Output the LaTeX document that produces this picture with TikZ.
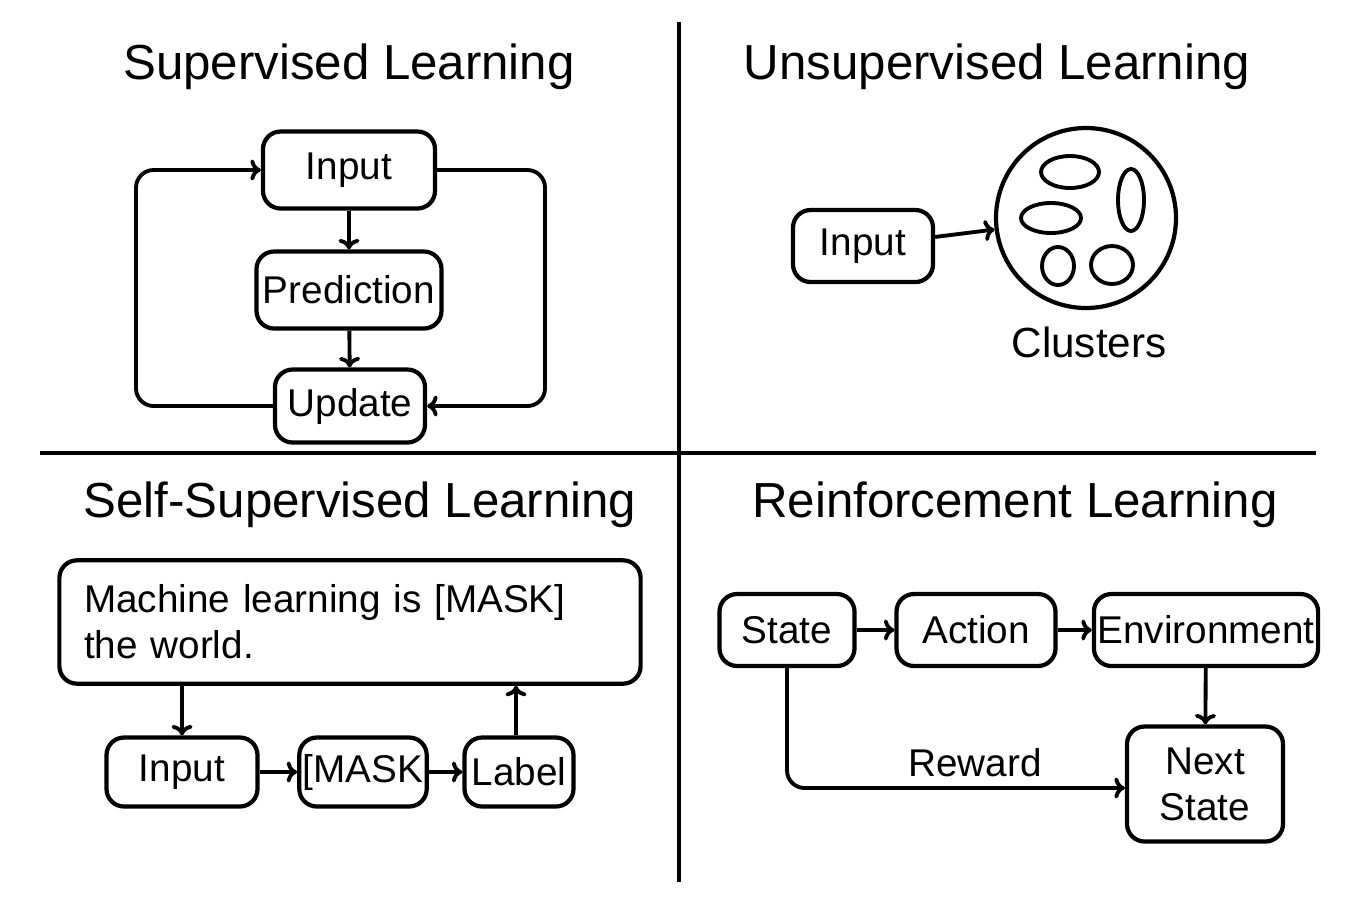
\documentclass[tikz,border=0pt]{standalone}
\usepackage{fontspec}
\setmainfont{Liberation Sans}
\usetikzlibrary{arrows.meta}

\tikzset{
  box/.style={draw, line width=1.2pt, rounded corners=5pt, align=center, font=\fontsize{11}{13}\selectfont},
  title/.style={font=\fontsize{14}{16}\selectfont},
  link/.style={line width=1.1pt, -{To[length=3pt,width=6pt]}, rounded corners=5pt},
}

\begin{document}
\begin{tikzpicture}[x=0.01cm, y=-0.01cm]
	\useasboundingbox (0,0) rectangle (1358,905);
	%% dividers
	\draw[line width=1.3pt] (679,22) -- (679,882);
	\draw[line width=1.3pt] (40,453) -- (1316,453);
	%% supervised
	\node[title] (tsup) at (349,67) {Supervised Learning};
	\node[box, minimum width=172*0.01cm, minimum height=77*0.01cm] (input) at (349,170) {Input};
	\node[box, minimum width=185*0.01cm, minimum height=77*0.01cm, inner sep=1pt] (pred) at (349,290) {Prediction};
	\node[box, minimum width=150*0.01cm, minimum height=73*0.01cm] (update) at (350,406) {Update};
	\draw[link] (input) -- (pred);
	\draw[link] (pred) -- (update);
	\draw[link] (update.west) -- (136,406) -- (136,170) -- (input.west);
	\draw[link] (input.east) -- (545,170) -- (545,406) -- (update.east);
	%% unsupervised
	\node[title] (tuns) at (997,67) {Unsupervised Learning};
	\node[box, minimum width=140*0.01cm, minimum height=72*0.01cm] (uinput) at (863,246) {Input};
	\node[draw, line width=1.2pt, circle, minimum size=180*0.01cm] (clus) at (1086,218) {};
	\draw[link] (uinput) -- (clus);
	\draw[line width=1.1pt] (1070,172) ellipse[x radius=29, y radius=16]
	  (1131,200) ellipse[x radius=13, y radius=31]
	  (1051,218) ellipse[x radius=30, y radius=15]
	  (1058,266) ellipse[x radius=16, y radius=19]
	  (1112,265) ellipse[x radius=21, y radius=19];
	\node[font=\fontsize{12}{14}\selectfont] (clab) at (1089,342) {Clusters};
	%% self-supervised
	\node[title] (tself) at (360,505) {Self-Supervised Learning};
	\node[box, align=left, text width=532*0.01cm, minimum height=115*0.01cm, inner sep=7pt] (sent) at (350,622) {Machine learning is [MASK] the world.};
	\node[box, minimum width=151*0.01cm, minimum height=69*0.01cm] (sinput) at (182,772) {Input};
	\node[box, minimum width=127*0.01cm, minimum height=69*0.01cm, inner sep=1pt] (mask) at (363,772) {[MASK};
	\node[box, minimum width=109*0.01cm, minimum height=69*0.01cm, inner sep=1pt] (label) at (519,772) {Label};
	\draw[link] (sent.south -| sinput) -- (sinput);
	\draw[link] (sinput) -- (mask);
	\draw[link] (mask) -- (label);
	\draw[link] (label.north -| 516,0) -- (sent.south -| 516,0);
	%% reinforcement
	\node[title] (trl) at (1015,505) {Reinforcement Learning};
	\node[box, minimum width=135*0.01cm, minimum height=72*0.01cm] (state) at (787,630) {State};
	\node[box, minimum width=159*0.01cm, minimum height=72*0.01cm] (action) at (976,630) {Action};
	\node[box, minimum width=219*0.01cm, minimum height=72*0.01cm, inner sep=1pt] (env) at (1206,630) {Environment};
	\node[box, minimum width=156*0.01cm, minimum height=115*0.01cm] (next) at (1205,784) {Next\\State};
	\draw[link] (state) -- (action);
	\draw[link] (action) -- (env);
	\draw[link] (env) -- (next);
	\draw[link] (state.south) -- (787,788) -- (next.west |- 0,788);
	\node[font=\fontsize{11}{13}\selectfont] (reward) at (975,763) {Reward};
\end{tikzpicture}
\end{document}
